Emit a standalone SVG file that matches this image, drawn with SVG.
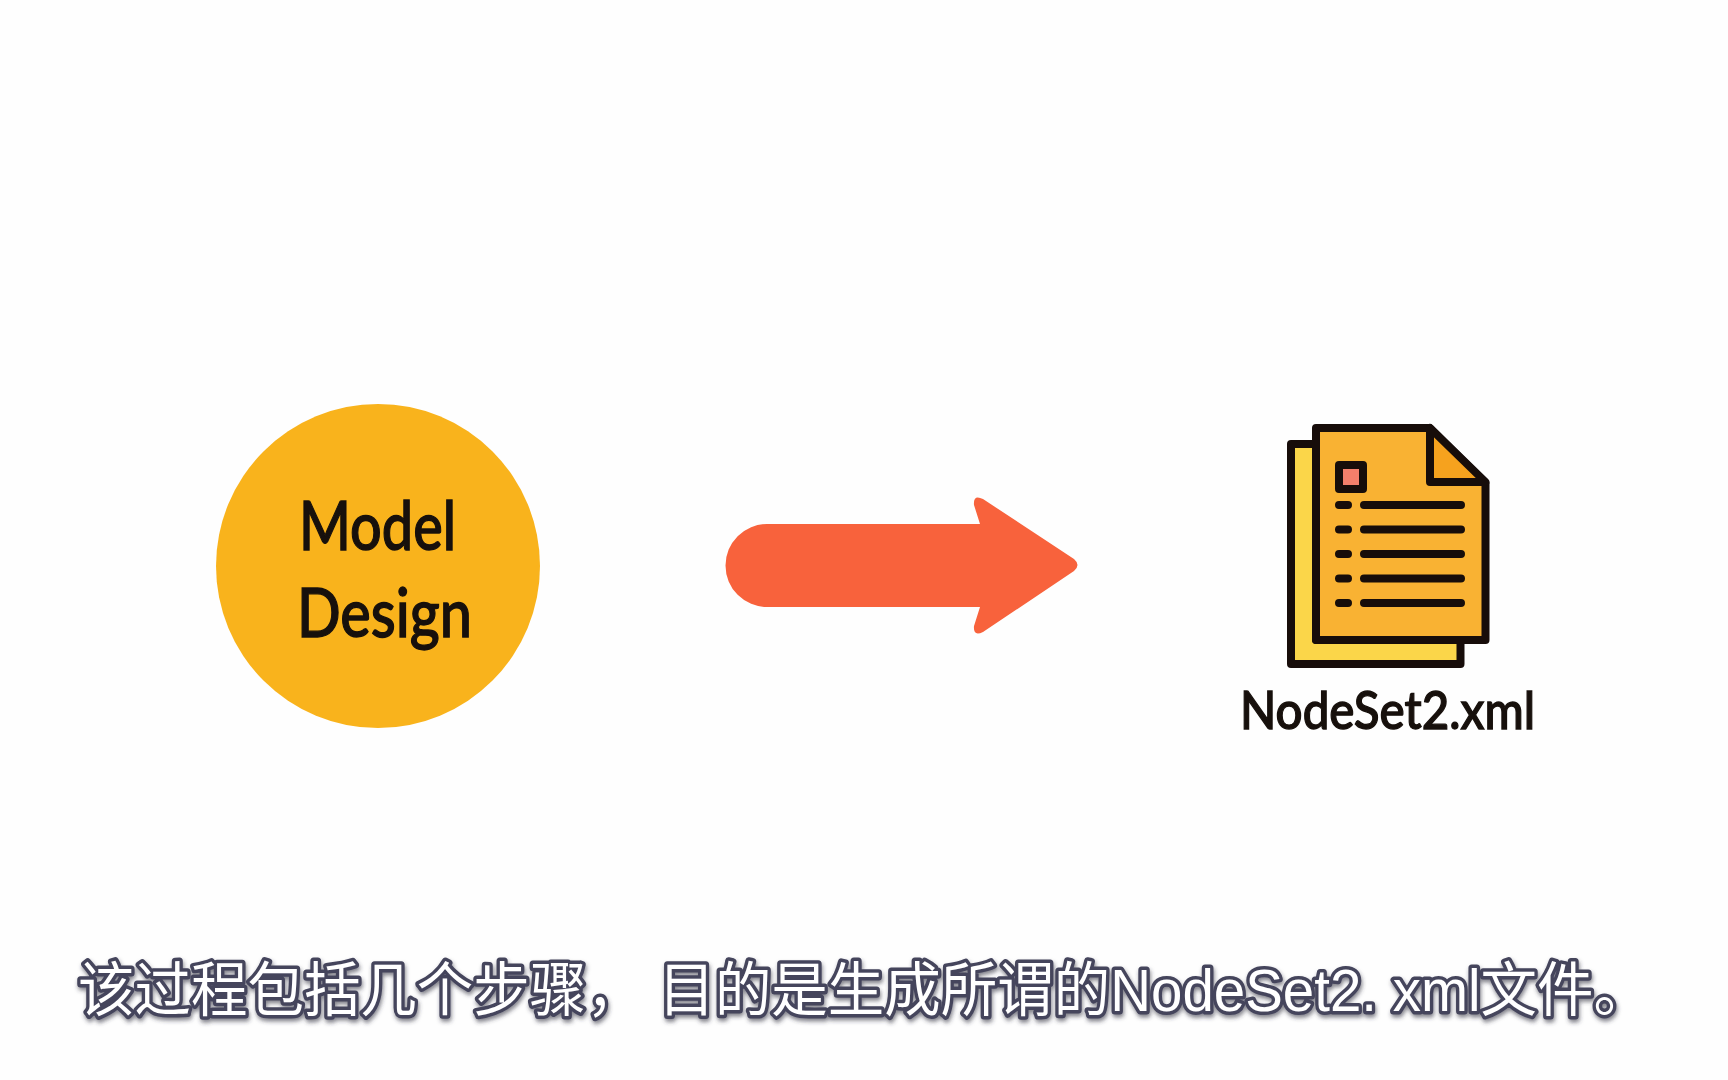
<svg xmlns="http://www.w3.org/2000/svg" width="1728" height="1080" viewBox="0 0 1728 1080">
<style>
.lbl{font-family:"Lato","Liberation Sans",sans-serif;font-weight:500;fill:#17100c;stroke:#17100c;stroke-width:1.300}
.ink{stroke:#170d0a;stroke-width:8;stroke-linejoin:round;stroke-linecap:round}
.row{stroke:#170d0a;stroke-width:8;stroke-linecap:round;fill:none}
.sub{font-family:"Liberation Sans","Noto Sans CJK SC",sans-serif;font-size:59px;fill:#fff;stroke:#44445c;stroke-width:7;stroke-linejoin:round;paint-order:stroke}
</style>
<defs>
<filter id="shadow" x="-5%" y="-30%" width="110%" height="160%"><feDropShadow dx="1" dy="3" stdDeviation="2" flood-color="#30303f" flood-opacity="0.6"/></filter>
</defs>
<rect width="1728" height="1080" fill="#fefefe"/>
<g id="model-design">
<circle cx="378" cy="566" r="162" fill="#f9b31c"/>
<text class="lbl" x="299" y="550" font-size="68" textLength="157" lengthAdjust="spacingAndGlyphs">Model</text>
<text class="lbl" x="297" y="637" font-size="68" textLength="175" lengthAdjust="spacingAndGlyphs">Design</text>
</g>
<g id="connectors">
<path d="M767 524H980L974 505Q973 494 983 499L1074 559Q1081 565 1074 571L983 632Q973 637 974 626L980 607H767A41.500 41.500 0 0 1 767 524Z" fill="#f8623c"/>
</g>
<g id="nodeset">
<path class="ink" d="M1316 444H1291V664H1460.500V640H1316Z" fill="#fbd649"/>
<path class="ink" d="M1316 428H1430L1485.500 483V640H1316Z" fill="#f9b233"/>
<path class="ink" d="M1430 428V482H1485.500Z" fill="#f6a21e"/>
<rect class="ink" x="1339" y="465" width="24" height="24" fill="#f47f6b"/>
<path class="row" d="M1339 505H1348M1364 505H1461M1339 529.500H1348M1364 529.500H1461M1339 554H1348M1364 554H1461M1339 578.500H1348M1364 578.500H1461M1339 603H1348M1364 603H1461"/>
<text class="lbl" x="1240" y="729" font-size="52" textLength="295" lengthAdjust="spacingAndGlyphs">NodeSet2.xml</text>
</g>
<g id="subtitle" filter="url(#shadow)">
<text class="sub" x="78" y="1011" textLength="1572" lengthAdjust="spacingAndGlyphs">该过程包括几个步骤， 目的是生成所谓的NodeSet2. xml文件。</text>
</g>
</svg>
